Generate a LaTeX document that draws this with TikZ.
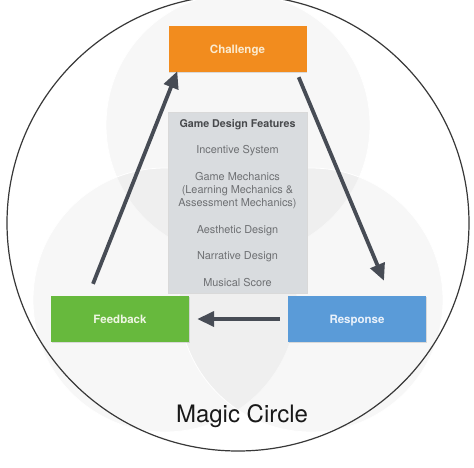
\documentclass[tikz,border=0pt]{standalone}
\usepackage{fontspec}
\setmainfont{TeX Gyre Heros}
\usetikzlibrary{arrows.meta,shadows}
\definecolor{chal}{HTML}{F28C1E}
\definecolor{feed}{HTML}{67B93D}
\definecolor{resp}{HTML}{5A9BD8}
\definecolor{panel}{HTML}{D9DCDF}
\definecolor{arrowc}{HTML}{474C55}
\definecolor{itemc}{HTML}{6E7073}
\definecolor{titlec}{HTML}{47494C}
\definecolor{chaltext}{HTML}{FBEBD0}
\definecolor{feedtext}{HTML}{EEF6E2}
\definecolor{resptext}{HTML}{EAF2FB}
\tikzset{
  stagebox/.style={minimum width=138pt,minimum height=46pt,inner sep=0pt,
    text height=8.3pt,text depth=0pt,
    font=\bfseries\fontsize{11.5}{13}\selectfont,
    drop shadow={opacity=0.25,shadow xshift=0.8pt,shadow yshift=-0.8pt}},
  item/.style={font=\fontsize{10.9}{12}\selectfont,text=itemc,inner sep=0pt},
  arr/.style={draw=arrowc,line width=3.8pt,-{Triangle[length=17pt,width=15pt]}},
  venn/.style={fill=black,fill opacity=0.03,draw=white,line width=0.8pt}
}
\begin{document}
\begin{tikzpicture}[x=1pt,y=-1pt]
\useasboundingbox (0,0) rectangle (474,467);
\fill[white] (0,0) rectangle (474,467);
\begin{scope}
\clip (0,0) rectangle (474,467);
% venn circles
\path[venn] (238,125) circle[radius=132];
\path[venn] (165,300) circle[radius=132];
\path[venn] (311,300) circle[radius=132];
% magic circle
\draw[line width=1.2pt,draw=black!78] (238,223) ellipse[x radius=231,y radius=228];
\end{scope}
% panel
\node[draw=black!15,fill=panel,minimum width=139pt,minimum height=181pt,inner sep=0pt,
  drop shadow={opacity=0.2,shadow xshift=0.8pt,shadow yshift=-0.8pt}] (panel) at (237.5,202.5) {};
\node[item,text=titlec,font=\bfseries\fontsize{10.7}{12}\selectfont] (t0) at (237.5,124.5) {Game Design Features};
\node[item] (t1) at (237.5,150.5) {Incentive System};
\node[item,align=center,font=\fontsize{10.9}{13.3}\selectfont] (t2) at (237.5,190.5) {Game Mechanics\\(Learning Mechanics \&\\Assessment Mechanics)};
\node[item] (t3) at (237.5,230.5) {Aesthetic Design};
\node[item] (t4) at (237.5,256.5) {Narrative Design};
\node[item] (t5) at (237.5,282.5) {Musical Score};
% stage boxes
\node[stagebox,fill=chal,text=chaltext] (challenge) at (237.5,49) {Challenge};
\node[stagebox,fill=feed,text=feedtext] (feedback) at (120,319) {Feedback};
\node[stagebox,fill=resp,text=resptext] (response) at (357,319) {Response};
% arrows
\draw[arr] ([xshift=-27pt,yshift=12pt]feedback.north) -- ([xshift=9pt,yshift=1pt]challenge.south west);
\draw[arr] ([xshift=-8pt,yshift=-5pt]challenge.south east) -- ([xshift=27pt,yshift=15pt]response.north);
\draw[arr] ([xshift=-8pt]response.west) -- ([xshift=8pt]feedback.east);
% label
\node[font=\fontsize{24}{28}\selectfont,text=black!90,inner sep=0pt] (magic) at (242,416) {Magic Circle};
\end{tikzpicture}
\end{document}
